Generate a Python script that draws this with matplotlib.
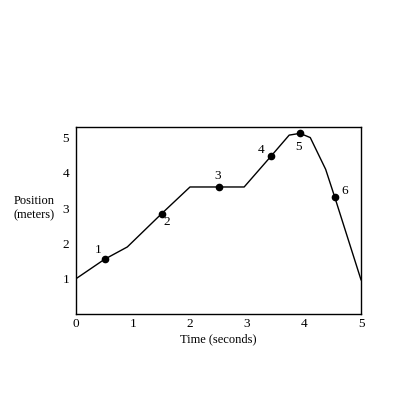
import matplotlib
matplotlib.use("Agg")
import matplotlib.pyplot as plt

plt.rcParams['font.family'] = ['Liberation Serif', 'DejaVu Serif']

# Path of the object (time, position)
path_t = [0.0, 0.5, 0.9, 1.5, 2.0, 2.5, 2.95, 3.42, 3.74, 3.93, 4.11, 4.38, 4.54, 5.0]
path_x = [1.0, 1.55, 1.9, 2.84, 3.6, 3.6, 3.6, 4.47, 5.07, 5.12, 5.0, 4.1, 3.31, 0.97]

# Marked points and their labels
pt_t = [0.5, 1.5, 2.5, 3.42, 3.93, 4.54]
pt_x = [1.55, 2.84, 3.6, 4.47, 5.12, 3.31]
pt_names = ['1', '2', '3', '4', '5', '6']
lab_t = [0.39, 1.6, 2.48, 3.24, 3.9, 4.72]
lab_x = [1.8, 2.62, 3.9, 4.66, 4.74, 3.5]

fig = plt.figure(figsize=(4, 4), dpi=100)
ax = fig.add_axes([0.19, 0.215, 0.7125, 0.4675])

ax.plot(path_t, path_x, color='black', linewidth=1)
ax.plot(pt_t, pt_x, 'o', color='black', markersize=4.5)
for t, x, s in zip(lab_t, lab_x, pt_names):
    ax.text(t, x, s, fontsize=9.5, ha='center', va='center')

ax.set_xlim(0, 5)
ax.set_ylim(0, 5.3)
ax.set_xticks([0, 1, 2, 3, 4, 5])
ax.set_yticks([1, 2, 3, 4, 5])
ax.tick_params(length=0, labelsize=9.5)
ax.tick_params(axis='x', pad=3)
ax.tick_params(axis='y', pad=5)
for spine in ax.spines.values():
    spine.set_linewidth(1)

ax.set_xlabel('Time (seconds)', fontsize=9, labelpad=2)
fig.text(0.085, 0.48, 'Position\n(meters)', fontsize=9, ha='center', va='center')

fig.savefig('out.png', dpi=100)
